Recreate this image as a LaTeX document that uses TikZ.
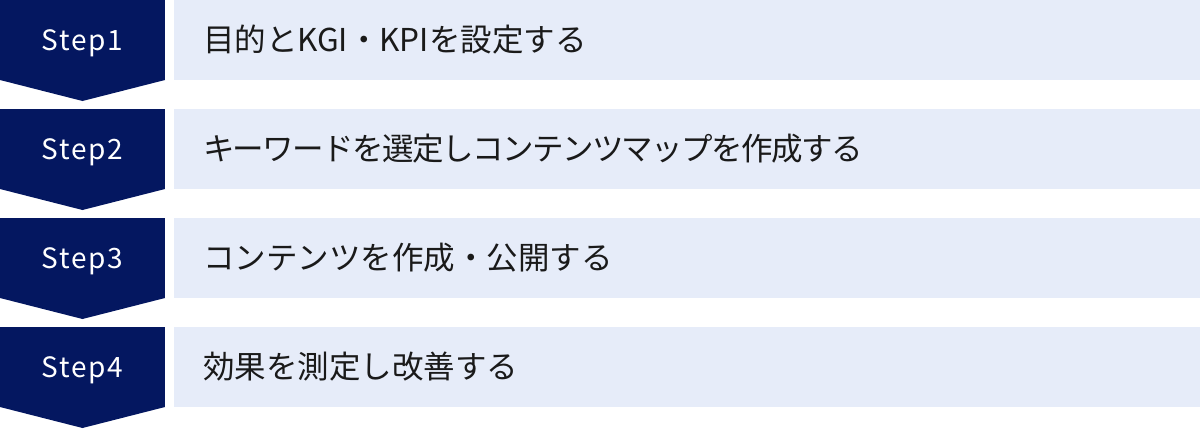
\documentclass[tikz,border=0pt]{standalone}
\usepackage{fontspec}
\setmainfont{Noto Sans CJK JP}
\usetikzlibrary{positioning,calc}
\definecolor{stepnavy}{RGB}{4,23,96}
\definecolor{boxblue}{RGB}{230,236,249}
\definecolor{textdark}{RGB}{26,26,26}

\begin{document}
\begin{tikzpicture}[x=1pt,y=1pt,node distance=29pt,
  stepbox/.style={fill=stepnavy,text=white,minimum width=165pt,minimum height=80pt,
    inner sep=0pt,outer sep=0pt,text depth=0pt,
    font=\fontsize{28}{32}\selectfont\addfontfeature{LetterSpace=6}},
  textbox/.style={fill=boxblue,text=textdark,minimum height=80pt,text width=968pt,
    inner xsep=29pt,inner ysep=0pt,outer sep=0pt,align=left,font=\fontsize{31.5}{36}\selectfont},
  tight/.style={font=\fontsize{31.5}{36}\selectfont\addfontfeature{LetterSpace=-5}}]
  \useasboundingbox (0,0) rectangle (1200,-429);

  \node[stepbox] (s1) at (82.5,-40) {Step1};
  \node[stepbox] (s2) [below=of s1] {Step2};
  \node[stepbox] (s3) [below=of s2] {Step3};
  \node[stepbox] (s4) [below=of s3] {Step4};

  \node[textbox] (t1) [right=9pt of s1] {目的とKGI・KPIを設定する};
  \node[textbox,tight] (t2) [right=9pt of s2] {キーワードを選定しコンテンツマップを作成する};
  \node[textbox] (t3) [right=9pt of s3] {コンテンツを作成・公開する};
  \node[textbox] (t4) [right=9pt of s4] {効果を測定し改善する};

  % arrow tips under the steps
  \foreach \s in {s1,s2,s3,s4}
    \fill[stepnavy] (\s.south west) -- ($(\s.south)+(0,-21)$) -- (\s.south east) -- cycle;
\end{tikzpicture}
\end{document}
